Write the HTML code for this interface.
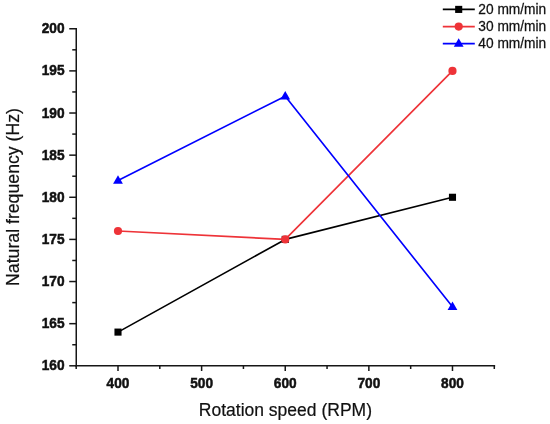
<!DOCTYPE html>
<html><head><meta charset="utf-8"><title>Natural frequency vs rotation speed</title>
<style>
html,body{margin:0;padding:0;background:#fff;}
body{width:550px;height:424px;overflow:hidden;}
svg{display:block;font-family:"Liberation Sans",Arial,sans-serif;}
.tk{font-weight:bold;font-size:15.2px;fill:#111;stroke:#111;stroke-width:0.55px;}
.ax{font-size:17.5px;fill:#111;stroke:#111;stroke-width:0.2px;}
.lg{font-size:14.3px;fill:#111;stroke:#111;stroke-width:0.25px;}
</style></head><body>
<svg width="550" height="424" viewBox="0 0 550 424">
<rect width="550" height="424" fill="#fff"/>
<g stroke="#161616" stroke-width="1.5" fill="none" stroke-linecap="butt">
<path d="M76.25 28.0V366.55"/>
<path d="M75.5 365.8H495.15"/>
<path d="M69.25 365.80H76.25"/>
<path d="M72.25 344.74H76.25"/>
<path d="M69.25 323.67H76.25"/>
<path d="M72.25 302.61H76.25"/>
<path d="M69.25 281.54H76.25"/>
<path d="M72.25 260.48H76.25"/>
<path d="M69.25 239.41H76.25"/>
<path d="M72.25 218.34H76.25"/>
<path d="M69.25 197.28H76.25"/>
<path d="M72.25 176.22H76.25"/>
<path d="M69.25 155.15H76.25"/>
<path d="M72.25 134.09H76.25"/>
<path d="M69.25 113.02H76.25"/>
<path d="M72.25 91.95H76.25"/>
<path d="M69.25 70.89H76.25"/>
<path d="M72.25 49.82H76.25"/>
<path d="M69.25 28.76H76.25"/>
<path d="M76.19 365.8V369.00"/>
<path d="M118.00 365.8V371.00"/>
<path d="M159.81 365.8V369.00"/>
<path d="M201.62 365.8V371.00"/>
<path d="M243.43 365.8V369.00"/>
<path d="M285.24 365.8V371.00"/>
<path d="M327.05 365.8V369.00"/>
<path d="M368.86 365.8V371.00"/>
<path d="M410.67 365.8V369.00"/>
<path d="M452.48 365.8V371.00"/>
<path d="M494.29 365.8V369.00"/>
</g>
<text class="tk" transform="translate(64.5 370.30) scale(0.9 1)" text-anchor="end">160</text>
<text class="tk" transform="translate(64.5 328.17) scale(0.9 1)" text-anchor="end">165</text>
<text class="tk" transform="translate(64.5 286.04) scale(0.9 1)" text-anchor="end">170</text>
<text class="tk" transform="translate(64.5 243.91) scale(0.9 1)" text-anchor="end">175</text>
<text class="tk" transform="translate(64.5 201.78) scale(0.9 1)" text-anchor="end">180</text>
<text class="tk" transform="translate(64.5 159.65) scale(0.9 1)" text-anchor="end">185</text>
<text class="tk" transform="translate(64.5 117.52) scale(0.9 1)" text-anchor="end">190</text>
<text class="tk" transform="translate(64.5 75.39) scale(0.9 1)" text-anchor="end">195</text>
<text class="tk" transform="translate(64.5 33.26) scale(0.9 1)" text-anchor="end">200</text>
<text class="tk" transform="translate(118.00 388.1) scale(0.9 1)" text-anchor="middle">400</text>
<text class="tk" transform="translate(201.62 388.1) scale(0.9 1)" text-anchor="middle">500</text>
<text class="tk" transform="translate(285.24 388.1) scale(0.9 1)" text-anchor="middle">600</text>
<text class="tk" transform="translate(368.86 388.1) scale(0.9 1)" text-anchor="middle">700</text>
<text class="tk" transform="translate(452.48 388.1) scale(0.9 1)" text-anchor="middle">800</text>
<text class="ax" x="285.4" y="415.8" text-anchor="middle">Rotation speed (RPM)</text>
<text class="ax" style="font-size:17.7px" transform="translate(18.7 197) rotate(-90)" text-anchor="middle">Natural frequency (Hz)</text>
<path d="M118.00 332.10L285.24 239.41L452.48 197.28" stroke="#000" stroke-width="1.65" fill="none" stroke-linejoin="round"/>
<rect x="114.45" y="328.55" width="7.1" height="7.1" fill="#000"/>
<rect x="281.69" y="235.86" width="7.1" height="7.1" fill="#000"/>
<rect x="448.93" y="193.73" width="7.1" height="7.1" fill="#000"/>
<path d="M118.00 230.98L285.24 239.41L452.48 70.89" stroke="#ee3338" stroke-width="1.65" fill="none" stroke-linejoin="round"/>
<circle cx="118.00" cy="230.98" r="4.1" fill="#ee3338"/>
<circle cx="285.24" cy="239.41" r="4.1" fill="#ee3338"/>
<circle cx="452.48" cy="70.89" r="4.1" fill="#ee3338"/>
<path d="M118.00 180.43L285.24 96.17L452.48 306.82" stroke="#0000ff" stroke-width="1.65" fill="none" stroke-linejoin="round"/>
<path d="M118.00 175.16L122.90 183.66H113.10Z" fill="#0000ff"/>
<path d="M285.24 90.90L290.14 99.40H280.34Z" fill="#0000ff"/>
<path d="M452.48 301.55L457.38 310.05H447.58Z" fill="#0000ff"/>
<path d="M442.8 9.4H474.8" stroke="#000" stroke-width="1.65"/>
<rect x="455.15" y="5.85" width="7.1" height="7.1" fill="#000"/>
<text class="lg" transform="translate(478.3 14.20) scale(0.962 1)">20 mm/min</text>
<path d="M442.8 26.6H474.8" stroke="#ee3338" stroke-width="1.65"/>
<circle cx="458.70" cy="26.60" r="4.1" fill="#ee3338"/>
<text class="lg" transform="translate(478.3 31.40) scale(0.962 1)">30 mm/min</text>
<path d="M442.8 43.6H474.8" stroke="#0000ff" stroke-width="1.65"/>
<path d="M458.70 38.33L463.60 46.83H453.80Z" fill="#0000ff"/>
<text class="lg" transform="translate(478.3 48.40) scale(0.962 1)">40 mm/min</text>
</svg></body></html>
